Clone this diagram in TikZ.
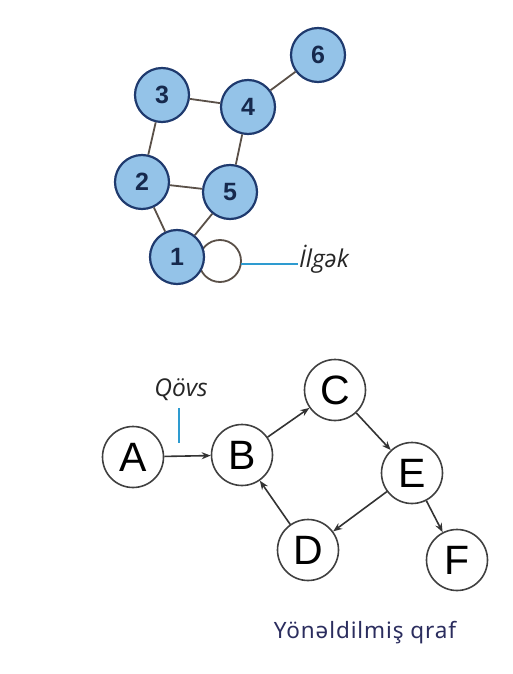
\documentclass[tikz,border=0pt]{standalone}
\usepackage{fontspec}
\setmainfont{Liberation Sans}
\newfontfamily\labfont{Open Sans}
\newfontfamily\capfont[LetterSpace=4]{Noto Sans}
\usetikzlibrary{arrows.meta}
\definecolor{nodeblue}{HTML}{94C3E8}
\definecolor{navy}{HTML}{1F3A6E}
\definecolor{edgebrown}{HTML}{5A5048}
\definecolor{leader}{HTML}{2E9BD0}
\definecolor{captioncol}{HTML}{2B2D5E}
\begin{document}
\begin{tikzpicture}[x=1pt,y=-1pt,
  unode/.style={circle,draw=navy,line width=2.2pt,fill=nodeblue,minimum size=54pt,inner sep=0pt,
    font=\fontsize{25}{27}\selectfont\bfseries,text=navy!70!black},
  uedge/.style={draw=edgebrown,line width=1.8pt},
  dnode/.style={circle,draw=black!75,line width=1.6pt,fill=white,minimum size=61pt,inner sep=0pt,
    font=\fontsize{41}{43}\selectfont},
  dedge/.style={draw=black!80,line width=1.6pt,-{Stealth[length=9pt,width=7pt]}},
  leadline/.style={draw=leader,line width=1.4pt},
  lab/.style={font=\labfont\itshape\fontsize{24.5}{27}\selectfont,text=black!85}]
\useasboundingbox (0,0) rectangle (512,674);
% undirected graph
\draw[edgebrown,line width=1.8pt] (220,261) circle[radius=21];
\node[unode] (n3) at (162,95) {3};
\node[unode] (n4) at (248,107) {4};
\node[unode] (n6) at (318,55) {6};
\node[unode] (n2) at (142,182) {2};
\node[unode] (n5) at (230,192) {5};
\node[unode] (n1) at (177,257) {1};
\path[uedge] (n3) -- (n4);
\path[uedge] (n4) -- (n6);
\path[uedge] (n3) -- (n2);
\path[uedge] (n4) -- (n5);
\path[uedge] (n2) -- (n5);
\path[uedge] (n2) -- (n1);
\path[uedge] (n5) -- (n1);
\coordinate (loopR) at (241,264);
\node[lab,anchor=base west,inner sep=1pt] (ilgek) at (298,267) {İlgək};
\draw[leadline] (loopR) -- (ilgek.west |- loopR);
% directed graph
\node[dnode] (A) at (133,457) {A};
\node[dnode] (B) at (242,455) {B};
\node[dnode] (C) at (335,390) {C};
\node[dnode] (E) at (412,473) {E};
\node[dnode] (D) at (308,550) {D};
\node[dnode] (F) at (457,560) {F};
\path[dedge] (A) -- (B);
\path[dedge] (B) -- (C);
\path[dedge] (C) -- (E);
\path[dedge] (E) -- (D);
\path[dedge] (D) -- (B);
\path[dedge] (E) -- (F);
\node[lab,anchor=base] (qovs) at (181,396) {Qövs};
\coordinate (qb) at (179,443);
\draw[leadline] (179,408) -- (qb);
\node[font=\capfont\fontsize{22.5}{26}\selectfont,text=captioncol,anchor=base] (cap) at (365,638) {Yönəldilmiş qraf};
\end{tikzpicture}
\end{document}
